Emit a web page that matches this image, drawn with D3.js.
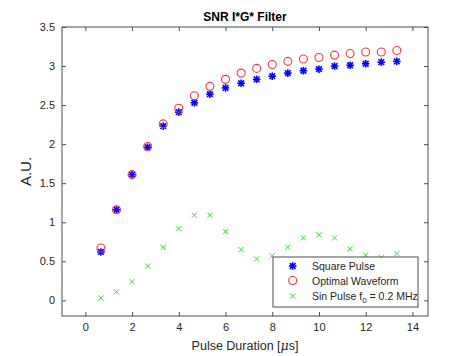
<!DOCTYPE html>
<html><head><meta charset="utf-8">
<script src="https://cdn.jsdelivr.net/npm/d3@7"></script>
<style>body{margin:0;background:#fff}svg{display:block}</style>
</head><body>
<svg id="c" width="474" height="356"></svg>
<script>
const xValues = [0.667,1.333,2,2.667,3.333,4,4.667,5.333,6,6.667,7.333,8,8.667,9.333,10,10.667,11.333,12,12.667,13.333];
const squarePulse = [0.62,1.16,1.61,1.96,2.23,2.41,2.53,2.64,2.72,2.78,2.83,2.87,2.91,2.94,2.96,3.00,3.01,3.03,3.05,3.06];
const optimalWaveform = [0.67,1.16,1.61,1.97,2.26,2.46,2.62,2.74,2.83,2.91,2.97,3.02,3.06,3.09,3.11,3.14,3.16,3.18,3.18,3.20];
const sinPulse = [0.03,0.11,0.24,0.44,0.68,0.92,1.09,1.09,0.88,0.65,0.53,0.57,0.68,0.80,0.84,0.80,0.66,0.58,0.55,0.60];
const xTicks = [0,2,4,6,8,10,12,14];
const yTicks = [0,0.5,1,1.5,2,2.5,3,3.5];
const legendLabels = ["Square Pulse","Optimal Waveform","Sin Pulse f0 = 0.2 MHz"];

const svg = d3.select("#c");
const L=62, R=428, T=27, B=316;
const x = d3.scaleLinear().domain([-1,14.667]).range([L,R]);
const y = d3.scaleLinear().domain([-0.2,3.5]).range([B,T]);
const axisCol = "#4d4d4d", txtCol="#262626";
const font = "Arial, 'Liberation Sans', Helvetica, sans-serif";

const g = svg.append("g");
// axes
const ax = g.append("g").attr("transform",`translate(0,${B})`).call(d3.axisBottom(x).tickValues(xTicks).tickSizeInner(-4).tickSizeOuter(0).tickPadding(7));
const axT = g.append("g").attr("transform",`translate(0,${T})`).call(d3.axisTop(x).tickValues(xTicks).tickSizeInner(-4).tickSizeOuter(0).tickFormat(""));
const ay = g.append("g").attr("transform",`translate(${L},0)`).call(d3.axisLeft(y).tickValues(yTicks).tickSizeInner(-4).tickSizeOuter(0).tickPadding(7).tickFormat(d3.format("")));
const ayR = g.append("g").attr("transform",`translate(${R},0)`).call(d3.axisRight(y).tickValues(yTicks).tickSizeInner(-4).tickSizeOuter(0).tickFormat(""));
[ax,axT,ay,ayR].forEach(a=>{
  a.select(".domain").remove();
  a.selectAll("line").attr("stroke",axisCol);
  a.selectAll("text").attr("fill",txtCol).style("font-family",font).style("font-size","11px");
});
g.append("rect").attr("x",L).attr("y",T).attr("width",R-L).attr("height",B-T).attr("fill","none").attr("stroke",axisCol).attr("stroke-width",1);

// markers
function star(sel, cx, cy, s){
  const p = sel.append("g").attr("transform",`translate(${cx},${cy})`).attr("stroke","#0000ff").attr("stroke-width",1.6);
  p.append("line").attr("x1",-s).attr("x2",s).attr("y1",0).attr("y2",0);
  p.append("line").attr("x1",0).attr("x2",0).attr("y1",-s).attr("y2",s);
  const d=s*0.75;
  p.append("line").attr("x1",-d).attr("x2",d).attr("y1",-d).attr("y2",d);
  p.append("line").attr("x1",-d).attr("x2",d).attr("y1",d).attr("y2",-d);
}
function circ(sel,cx,cy,r){
  sel.append("circle").attr("cx",cx).attr("cy",cy).attr("r",r).attr("fill","none").attr("stroke","#ff3333").attr("stroke-width",1.1);
}
function cross(sel,cx,cy,s){
  const p = sel.append("g").attr("transform",`translate(${cx},${cy})`).attr("stroke","#33dd33").attr("stroke-width",1);
  p.append("line").attr("x1",-s).attr("x2",s).attr("y1",-s).attr("y2",s);
  p.append("line").attr("x1",-s).attr("x2",s).attr("y1",s).attr("y2",-s);
}
const pts = g.append("g");
xValues.forEach((xv,i)=>star(pts,x(xv),y(squarePulse[i]),3.8));
xValues.forEach((xv,i)=>circ(pts,x(xv),y(optimalWaveform[i]),4));
xValues.forEach((xv,i)=>cross(pts,x(xv),y(sinPulse[i]),2.6));

// title & labels
svg.append("text").attr("x",(L+R)/2).attr("y",21).attr("text-anchor","middle").attr("font-weight","bold")
  .style("font-family",font).style("font-size","12px").attr("fill","#000").text("SNR I*G* Filter");
svg.append("text").attr("x",(L+R)/2).attr("y",350).attr("text-anchor","middle")
  .style("font-family",font).style("font-size","12.5px").attr("fill",txtCol)
  .text("Pulse Duration [").append("tspan").style("font-family","'DejaVu Serif', serif").style("font-style","italic").text("\u03bc").select(function(){return this.parentNode;}).append("tspan").text("s]");
svg.append("text").attr("transform",`translate(31,${(T+B)/2}) rotate(-90)`).attr("text-anchor","middle")
  .style("font-family",font).style("font-size","15px").attr("fill",txtCol).text("A.U.");

// legend
const lg = svg.append("g");
const lx=273, ly=257, lw=145, lh=50;
lg.append("rect").attr("x",lx).attr("y",ly).attr("width",lw).attr("height",lh).attr("fill","#fff").attr("stroke","#4d4d4d").attr("stroke-width",1);
const rows=[266,280.5,296];
star(lg,292.7,rows[0],3.8);
circ(lg,292.7,rows[1],4);
cross(lg,292.7,rows[2],2.6);
legendLabels.forEach((t,i)=>{
  const tx = lg.append("text").attr("x",312).attr("y",rows[i]+4).style("font-family",font).style("font-size","10.5px").attr("fill",txtCol);
  if(i===2){
    tx.append("tspan").text("Sin Pulse f");
    tx.append("tspan").attr("dy",3).style("font-size","8px").text("0");
    tx.append("tspan").attr("dy",-3).text(" = 0.2 MHz");
  } else tx.text(t);
});
</script>
</body></html>
